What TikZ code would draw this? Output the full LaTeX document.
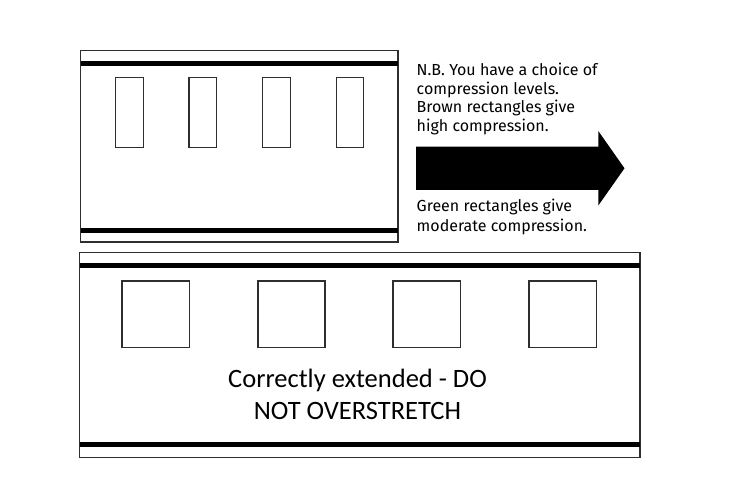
\documentclass[tikz,border=0pt]{standalone}
\usepackage{fontspec}
\setmainfont{Carlito}
\newfontfamily\notefont{Fira Sans}
\definecolor{framegray}{HTML}{2E2E2E}
\tikzset{
    panel/.style={draw=framegray, line width=1.4pt},
    rail/.style={draw=black, line width=5pt},
    slot/.style={draw=framegray, line width=1.4pt},
    notetext/.style={font=\notefont\fontsize{16}{18.7}\selectfont, align=left, inner sep=0pt, anchor=base west}
}
\begin{document}
\begin{tikzpicture}[x=1pt, y=-1pt]
    \useasboundingbox (0, 0) rectangle (734, 500);

    % compressed strip
    \begin{scope}
        \draw[panel] (80.7, 50.7) rectangle (398, 242);
        \draw[rail] (80.7, 63.2) -- (398, 63.2);
        \draw[rail] (80.7, 230) -- (398, 230);
        \draw[slot] (115.7, 77.3) rectangle (143.3, 147.3);
        \draw[slot] (189, 77.3) rectangle (216.7, 147.3);
        \draw[slot] (262.7, 77.3) rectangle (290.3, 147.3);
        \draw[slot] (336.3, 77.3) rectangle (363.7, 147.3);
    \end{scope}

    % note and arrow (base = last line)
    \node[notetext] (choice) at (416.5, 131.7) {N.B. You have a choice of\\compression levels.\\Brown rectangles give\\high compression.};
    \fill[black] (416, 146.7) -- (598.3, 146.7) -- (598.3, 131) -- (624.5, 168.3)
        -- (598.3, 205.5) -- (598.3, 190) -- (416, 190) -- cycle;
    \node[notetext, font=\notefont\fontsize{16}{20}\selectfont] (green) at (416.5, 231.7) {Green rectangles give\\moderate compression.};

    % extended strip
    \begin{scope}
        \draw[panel] (79.5, 252.5) rectangle (640, 457.5);
        \draw[rail] (79.5, 265.7) -- (640, 265.7);
        \draw[rail] (79.5, 444.3) -- (640, 444.3);
        \draw[slot] (122, 281) rectangle (189.6, 347.7);
        \draw[slot] (257.8, 281) rectangle (325, 347.7);
        \draw[slot] (393, 281) rectangle (460.7, 347.7);
        \draw[slot] (529, 281) rectangle (596.7, 347.7);
        \node[font=\fontsize{26.5}{31.3}\selectfont, align=center, inner sep=0pt, anchor=base] (extended) at (357.5, 419) {Correctly extended - DO\\NOT OVERSTRETCH};
    \end{scope}
\end{tikzpicture}
\end{document}
